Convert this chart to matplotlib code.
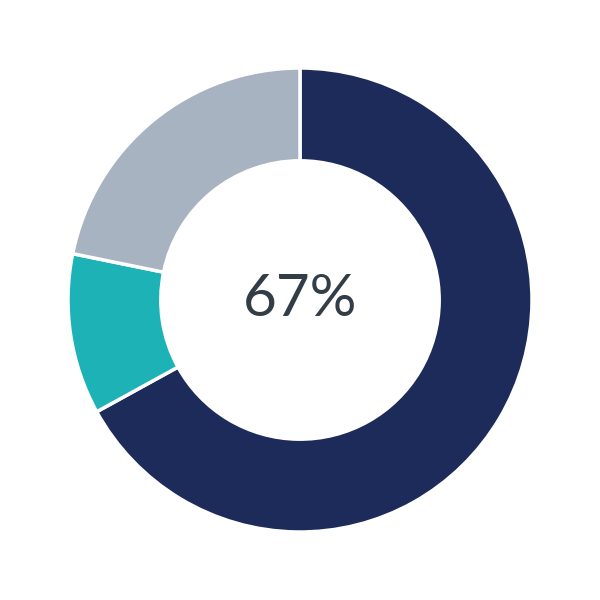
import numpy as np
import matplotlib.pyplot as plt

# donut shares (percent)
labels = ["Main", "Teal", "Gray"]
values = [67, 11.2, 21.8]
colors = ["#1c2b5a", "#1db3b6", "#a8b3c2"]
center_text = "67%"

fig = plt.figure(figsize=(6, 6), dpi=100)
ax = fig.add_axes([0, 0, 1, 1])

ax.pie(values, colors=colors, startangle=90, counterclock=False,
       radius=1.0,
       wedgeprops=dict(width=0.40, edgecolor="white", linewidth=2.5))

ax.text(0, 0, center_text, ha="center", va="center", fontsize=42,
        color="#333d47", family=["Lato", "DejaVu Sans"], fontweight="normal")

lim = 300 / 232
ax.set_xlim(-lim, lim)
ax.set_ylim(-lim, lim)
ax.set_aspect("equal")
ax.axis("off")

fig.savefig("out.png", dpi=100, facecolor="white")
